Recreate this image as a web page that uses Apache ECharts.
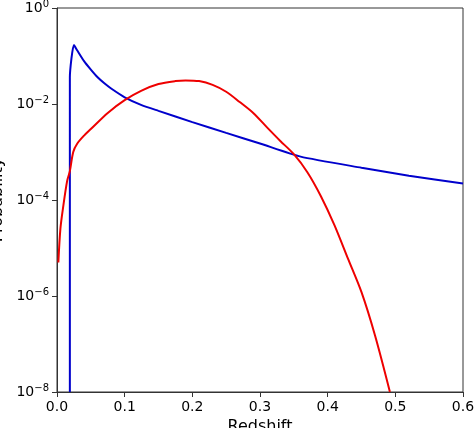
<!DOCTYPE html>
<html><head><meta charset="utf-8">
<script src="https://cdn.jsdelivr.net/npm/echarts@6/dist/echarts.min.js"></script>
<style>html,body{margin:0;padding:0;background:#fff}#c{width:474px;height:428px}</style>
</head><body><div id="c"></div>
<script>
const blueX = [0.019, 0.019, 0.025, 0.03, 0.04, 0.05, 0.06, 0.07, 0.08, 0.1, 0.125, 0.15, 0.2, 0.25, 0.3, 0.36, 0.45, 0.52, 0.6];
const blueY = [1e-8, 0.036, 0.17, 0.13, 0.078, 0.052, 0.036, 0.027, 0.021, 0.0138, 0.0095, 0.0072, 0.0042, 0.0025, 0.0015, 0.0008, 0.00047, 0.00032, 0.00022];
const redX = [0.002, 0.005, 0.009, 0.015, 0.019, 0.024, 0.03, 0.04, 0.05, 0.075, 0.1, 0.125, 0.15, 0.175, 0.19, 0.21, 0.23, 0.25, 0.27, 0.29, 0.31, 0.33, 0.35, 0.37, 0.39, 0.41, 0.43, 0.45, 0.47, 0.492];
const redY = [5e-6, 2.5e-5, 7e-5, 2.5e-4, 4e-4, 1e-3, 1.5e-3, 2.2e-3, 3e-3, 6.5e-3, 0.012, 0.019, 0.026, 0.03, 0.031, 0.03, 0.025, 0.018, 0.011, 0.0065, 0.0033, 0.0017, 0.0009, 3.8e-4, 1.2e-4, 3e-5, 6e-6, 1.2e-6, 1.5e-7, 1e-8];
const xTicks = [0, 0.1, 0.2, 0.3, 0.4, 0.5, 0.6];
const yLabels = {0:'10{s|0}', '-2':'10{s|−2}', '-4':'10{s|−4}', '-6':'10{s|−6}', '-8':'10{s|−8}'};
const pair = (xs, ys) => xs.map((x, i) => [x, ys[i]]);
const chart = echarts.init(document.getElementById('c'));
const font = 'DejaVu Sans';
chart.setOption({
  animation: false,
  grid: {left: 57, right: 11, top: 8, bottom: 36, containLabel: false, outerBoundsMode: 'none', show: true, borderColor: '#333', borderWidth: 1},
  xAxis: {type: 'value', min: 0, max: 0.6, interval: 0.1,
    name: 'Redshift', nameLocation: 'middle', nameGap: 26,
    nameTextStyle: {fontFamily: font, fontSize: 16, color: '#000'},
    axisLine: {lineStyle: {color: '#333'}}, axisTick: {show: true, lineStyle: {color: '#333'}},
    splitLine: {show: false},
    axisLabel: {fontFamily: font, fontSize: 14, color: '#000', formatter: v => v.toFixed(1)}},
  yAxis: {type: 'log', logBase: 10, min: 1e-8, max: 1, interval: 2,
    name: 'Probability', nameLocation: 'middle', nameGap: 40,
    nameTextStyle: {fontFamily: font, fontSize: 16, color: '#000'},
    axisLine: {show: true, lineStyle: {color: '#333'}},
    axisTick: {show: true, lineStyle: {color: '#333'}},
    minorTick: {show: false}, splitLine: {show: false},
    axisLabel: {fontFamily: font, fontSize: 14, color: '#000',
      formatter: v => { const e = Math.round(Math.log10(v)); return yLabels[String(e)] || ''; },
      rich: {s: {fontSize: 10, verticalAlign: 'top', padding: [0,0,8,0], fontFamily: font, color: '#000'}}}},
  series: [
    {type: 'line', data: pair(blueX, blueY), showSymbol: false, smooth: 0.2, clip: true,
     lineStyle: {color: '#0000cc', width: 2}},
    {type: 'line', data: pair(redX, redY), showSymbol: false, smooth: 0.3, clip: true,
     lineStyle: {color: '#ee0000', width: 2}}
  ]
});
</script></body></html>
